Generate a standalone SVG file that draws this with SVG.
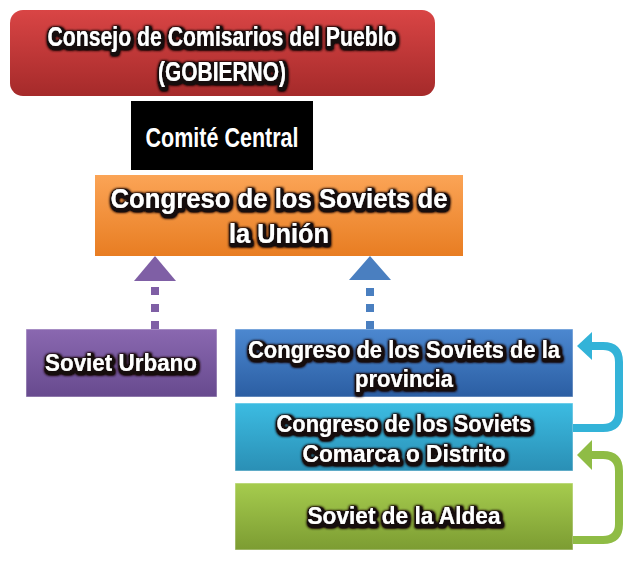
<svg xmlns="http://www.w3.org/2000/svg" width="640" height="565" viewBox="0 0 640 565">
<defs>
<linearGradient id="gRed" x1="0" y1="0" x2="0" y2="1"><stop offset="0" stop-color="#d94545"/><stop offset="1" stop-color="#a52a2a"/></linearGradient>
<linearGradient id="gOrange" x1="0" y1="0" x2="0" y2="1"><stop offset="0" stop-color="#fba456"/><stop offset="1" stop-color="#e87d22"/></linearGradient>
<linearGradient id="gPurple" x1="0" y1="0" x2="0" y2="1"><stop offset="0" stop-color="#8a68b0"/><stop offset="1" stop-color="#674a8e"/></linearGradient>
<linearGradient id="gBlue" x1="0" y1="0" x2="0" y2="1"><stop offset="0" stop-color="#4c88d0"/><stop offset="1" stop-color="#2b5ea3"/></linearGradient>
<linearGradient id="gCyan" x1="0" y1="0" x2="0" y2="1"><stop offset="0" stop-color="#3cbce2"/><stop offset="1" stop-color="#2a8fb5"/></linearGradient>
<linearGradient id="gGreen" x1="0" y1="0" x2="0" y2="1"><stop offset="0" stop-color="#a6cc4e"/><stop offset="1" stop-color="#7c9c32"/></linearGradient>
<filter id="glow" x="-10%" y="-30%" width="120%" height="160%">
<feMorphology in="SourceAlpha" operator="dilate" radius="1.6" result="d"/>
<feGaussianBlur in="d" stdDeviation="1.8" result="b"/>
<feOffset in="b" dx="1" dy="1.5" result="o"/>
<feComponentTransfer in="o" result="s"><feFuncA type="linear" slope="2"/></feComponentTransfer>
<feFlood flood-color="#150808"/>
<feComposite in2="s" operator="in" result="sh"/>
<feMerge><feMergeNode in="sh"/><feMergeNode in="SourceGraphic"/></feMerge>
</filter>
</defs>
<style>
text{font-family:"Liberation Sans","Arial",sans-serif;font-weight:bold;fill:#fff;text-anchor:middle}
.t{filter:url(#glow)}
.box{stroke:#ffffff;stroke-opacity:0.5;stroke-width:1}
</style>
<rect width="640" height="565" fill="#fff"/>
<g id="consejo">
<rect x="10" y="10" width="425" height="86" rx="13" fill="url(#gRed)"/>
<text class="t" x="222" y="46" font-size="27" textLength="349" lengthAdjust="spacingAndGlyphs">Consejo de Comisarios del Pueblo</text>
<text class="t" x="222" y="81" font-size="27" textLength="128" lengthAdjust="spacingAndGlyphs">(GOBIERNO)</text>
</g>
<g id="comite">
<rect x="131" y="101" width="182" height="69" fill="#000"/>
<text x="222" y="147" font-size="27" textLength="153" lengthAdjust="spacingAndGlyphs">Comité Central</text>
</g>
<g id="congreso-union">
<rect x="95" y="175" width="368" height="81" fill="url(#gOrange)"/>
<text class="t" x="279" y="208" font-size="27" textLength="337" lengthAdjust="spacingAndGlyphs">Congreso de los Soviets de</text>
<text class="t" x="279" y="243" font-size="27" textLength="100" lengthAdjust="spacingAndGlyphs">la Unión</text>
</g>
<g id="soviet-urbano">
<rect class="box" x="26" y="329" width="191" height="68" fill="url(#gPurple)"/>
<text class="t" x="121" y="371" font-size="23" textLength="152" lengthAdjust="spacingAndGlyphs">Soviet Urbano</text>
</g>
<g id="provincia">
<rect class="box" x="235" y="329" width="338" height="68" fill="url(#gBlue)"/>
<text class="t" x="404" y="358" font-size="23" textLength="312" lengthAdjust="spacingAndGlyphs">Congreso de los Soviets de la</text>
<text class="t" x="404" y="387" font-size="23" textLength="98" lengthAdjust="spacingAndGlyphs">provincia</text>
</g>
<g id="comarca">
<rect class="box" x="235" y="403" width="338" height="68" fill="url(#gCyan)"/>
<text class="t" x="404" y="432" font-size="23" textLength="255" lengthAdjust="spacingAndGlyphs">Congreso de los Soviets</text>
<text class="t" x="404" y="462" font-size="23" textLength="203" lengthAdjust="spacingAndGlyphs">Comarca o Distrito</text>
</g>
<g id="aldea">
<rect class="box" x="235" y="483" width="338" height="67" fill="url(#gGreen)"/>
<text class="t" x="404" y="524" font-size="23" textLength="193" lengthAdjust="spacingAndGlyphs">Soviet de la Aldea</text>
</g>
<g id="connectors">
<polygon points="155,256 176,281 134,281" fill="#7f5fa5"/>
<rect x="151" y="287" width="8" height="8" fill="#7f5fa5"/>
<rect x="151" y="304" width="8" height="8" fill="#7f5fa5"/>
<rect x="151" y="321" width="8" height="8" fill="#7f5fa5"/>
<polygon points="370,256 391,280 349,280" fill="#4a7fc0"/>
<rect x="366" y="288" width="8" height="8" fill="#4a7fc0"/>
<rect x="366" y="304" width="8" height="8" fill="#4a7fc0"/>
<rect x="366" y="321" width="8" height="8" fill="#4a7fc0"/>
<path d="M573 428 H603 Q619 428 619 412 V362 Q619 346 603 346 H590" fill="none" stroke="#33b3d8" stroke-width="8"/>
<polygon points="577,346 592,332 592,360" fill="#33b3d8"/>
<path d="M573 540 H603 Q619 540 619 524 V471 Q619 455 603 455 H590" fill="none" stroke="#8fbc45" stroke-width="8"/>
<polygon points="577,455 592,440 592,470" fill="#8fbc45"/>
</g>
</svg>
